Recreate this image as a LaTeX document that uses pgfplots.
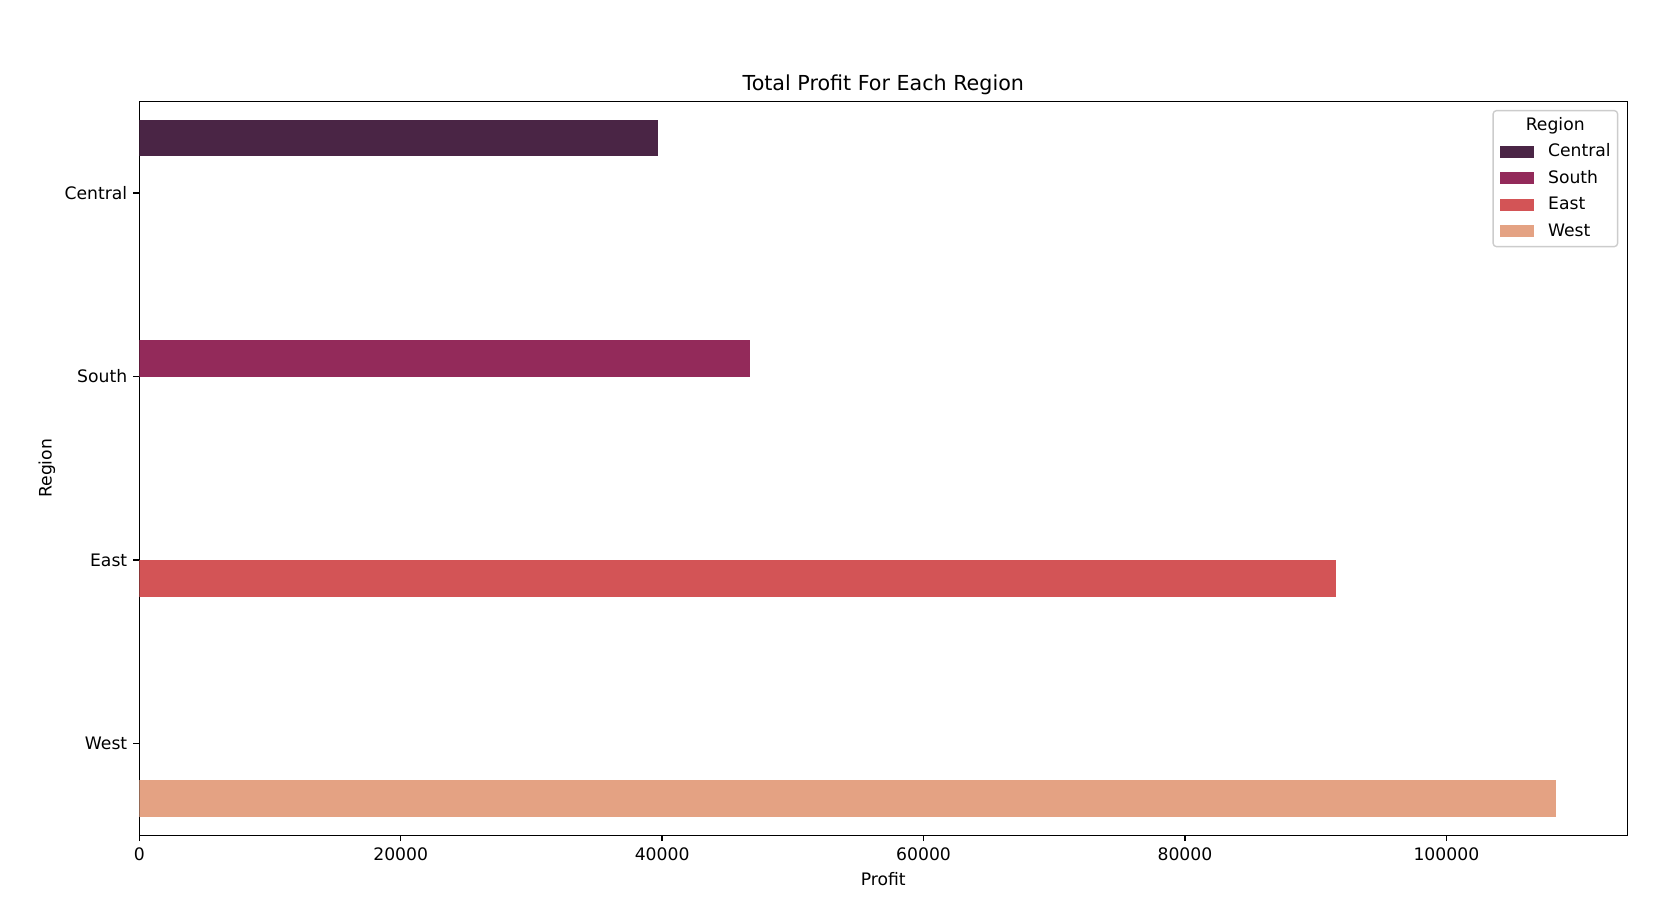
\documentclass[border=0pt]{standalone}
\usepackage{pgfplots}
\pgfplotsset{compat=1.18}
\usepackage{fontspec}
\setmainfont{DejaVu Sans}
\definecolor{cCentral}{HTML}{4A2545}
\definecolor{cSouth}{HTML}{932A5A}
\definecolor{cEast}{HTML}{D35456}
\definecolor{cWest}{HTML}{E4A283}
\begin{document}
\begin{tikzpicture}
\begin{axis}[
  at={(0,0)}, anchor=south west,
  scale only axis, width=865.1pt, height=426.7pt,
  xmin=0, xmax=113839, ymin=-0.5, ymax=3.5, y dir=reverse,
  xbar, bar width=0.2, bar shift=0pt,
  ytick={0,1,2,3}, yticklabels={Central,South,East,West},
  xtick={0,20000,40000,60000,80000,100000},
  xticklabels={0,20000,40000,60000,80000,100000},
  scaled x ticks=false,
  tick pos=left, tick align=outside, major tick length=3.5pt,
  every tick/.style={black, line width=0.8pt},
  axis line style={line width=0.8pt},
  tick label style={font=\fontsize{10}{12}\selectfont},
  label style={font=\fontsize{10}{12}\selectfont},
  title={Total Profit For Each Region},
  title style={at={(0.5,1)}, anchor=south, inner sep=0pt, yshift=-2.4pt, font=\fontsize{12}{14.4}\selectfont},
  xlabel={Profit}, ylabel={Region},
  xlabel style={at={(axis description cs:0.5,0)}, anchor=center, yshift=-25.6pt},
  ylabel style={at={(axis description cs:-0.0622,0.5)}, anchor=center},
  legend style={at={(1,1)}, anchor=north east, xshift=-5.2pt, yshift=-5pt,
    draw=black!20, rounded corners=2pt, line width=0.8pt,
    inner xsep=4pt, inner ysep=4pt, font=\fontsize{10}{12}\selectfont,
    row sep=5.9pt, column sep=8pt,
    nodes={inner sep=0pt, text height=7.5pt, text depth=2pt}},
  legend cell align=left,
  legend image code/.code={\path[#1, sharp corners] (0pt,-3.2pt) rectangle (20pt,3.8pt);},
]
\addlegendimage{empty legend}
\addlegendentry{\hspace*{-13pt}Region}
\addplot[fill=cCentral, draw=none] coordinates {(39706.36,-0.3)};
\addlegendentry{Central}
\addplot[fill=cSouth, draw=none] coordinates {(46749.43,0.9)};
\addlegendentry{South}
\addplot[fill=cEast, draw=none] coordinates {(91522.78,2.1)};
\addlegendentry{East}
\addplot[fill=cWest, draw=none] coordinates {(108418.45,3.3)};
\addlegendentry{West}
\end{axis}
\path (-81.0pt,-35.9pt) rectangle (885.3pt,485.6pt);
\end{tikzpicture}
\end{document}
